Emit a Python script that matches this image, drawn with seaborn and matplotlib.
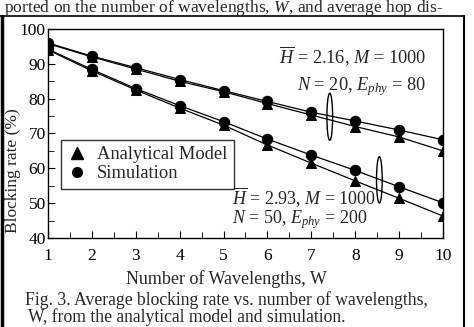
import numpy as np
import pandas as pd
import matplotlib
matplotlib.use("Agg")
import matplotlib.pyplot as plt
from matplotlib.patches import Ellipse
from matplotlib.lines import Line2D
import seaborn as sns

# ---- data ----
wavelengths = [1, 2, 3, 4, 5, 6, 7, 8, 9, 10]
sim_h216 = [96.0, 92.2, 88.9, 85.5, 82.3, 79.2, 76.1, 73.6, 71.0, 68.2]
ana_h216 = [95.8, 92.0, 88.5, 85.0, 82.0, 78.6, 75.3, 72.0, 69.0, 65.0]
sim_h293 = [94.2, 88.4, 82.9, 78.0, 73.4, 68.4, 63.8, 59.4, 54.7, 50.1]
ana_h293 = [94.0, 88.0, 82.5, 77.3, 72.4, 66.7, 61.5, 56.4, 51.4, 46.3]
methods = ["Analytical Model", "Simulation"]
x_ticks = [1, 2, 3, 4, 5, 6, 7, 8, 9, 10]
y_ticks = [40, 50, 60, 70, 80, 90, 100]

rows = []
for grp, sim, ana in [("H216", sim_h216, ana_h216), ("H293", sim_h293, ana_h293)]:
    for w, s, a in zip(wavelengths, sim, ana):
        rows.append({"W": w, "rate": a, "method": methods[0], "group": grp})
        rows.append({"W": w, "rate": s, "method": methods[1], "group": grp})
df = pd.DataFrame(rows)
df["series"] = df["group"] + df["method"]

sns.set_style("ticks")
plt.rcParams["font.family"] = ["Liberation Serif", "DejaVu Serif"]
plt.rcParams["mathtext.fontset"] = "custom"
plt.rcParams["mathtext.rm"] = "Liberation Serif"
plt.rcParams["mathtext.it"] = "Liberation Serif:italic"

fig = plt.figure(figsize=(4.74, 3.27), dpi=100)
ax = fig.add_axes([48 / 474, 1 - 238 / 327, (443 - 48) / 474, (238 - 29) / 327])

series_order = ["H216Analytical Model", "H216Simulation", "H293Analytical Model", "H293Simulation"]
sns.lineplot(data=df, x="W", y="rate", hue="series", style="series",
             hue_order=series_order, style_order=series_order,
             palette=["black"] * 4, markers=["^", "o", "^", "o"], dashes=False,
             markersize=7.5, linewidth=0.9, markeredgecolor="black",
             legend=False, ax=ax)

ax.set_xlim(1, 10)
ax.set_ylim(40, 100)
ax.set_xticks(x_ticks)
ax.set_yticks(y_ticks)
ax.set_xticks(np.arange(1.5, 10, 1.0), minor=True)
ax.set_yticks(np.arange(45, 100, 10), minor=True)
ax.tick_params(axis="both", which="both", direction="in", colors="black", labelsize=12.5)
ax.tick_params(axis="x", which="major", length=5, pad=7)
ax.tick_params(axis="x", which="minor", length=4)
ax.tick_params(axis="y", which="major", length=5, pad=1.5)
ax.tick_params(axis="y", which="minor", length=4)
ax.set_xlabel("")
ax.set_ylabel("")
for sp in ax.spines.values():
    sp.set_color("black")
    sp.set_linewidth(1.0)

# legend
handles = [Line2D([], [], color="black", marker="^", linestyle="none", markersize=8),
           Line2D([], [], color="black", marker="o", linestyle="none", markersize=7)]
leg = ax.legend(handles, methods, loc="upper left", bbox_to_anchor=(0.033, 0.469),
                frameon=True, fancybox=False, fontsize=13.3, handletextpad=0.6,
                borderpad=0.35, labelspacing=0.1, handlelength=1.0, borderaxespad=0)
leg.get_frame().set_edgecolor("black")
leg.get_frame().set_linewidth(1.0)

# annotations
ax.text(9.62, 92.0, r"$\overline{H}$ = 2.16, $M$ = 1000", ha="right", va="center", fontsize=13.2)
ax.text(9.62, 83.4, r"$N$ = 20, $E_{phy}$ = 80", ha="right", va="center", fontsize=13.2)
ax.text(5.2, 51.6, r"$\overline{H}$ = 2.93, $M$ = 1000", ha="left", va="center", fontsize=13)
ax.text(5.2, 45.2, r"$N$ = 50, $E_{phy}$ = 200", ha="left", va="center", fontsize=13)
ax.add_patch(Ellipse((7.42, 74.8), 0.13, 13.5, fill=False, edgecolor="black", lw=1.0))
ax.add_patch(Ellipse((8.55, 56.7), 0.13, 13.3, fill=False, edgecolor="black", lw=1.0))

# axis labels and page text
fig.text(226 / 474, 1 - 279 / 327, r"Number of Wavelengths, W", ha="center", va="center", fontsize=13)
fig.text(13 / 474, 1 - 171 / 327, "Blocking rate (%)", rotation=90, ha="center", va="center", fontsize=12.5)
fig.text(4 / 474, 1 - 12.5 / 327, r"ported on the number of wavelengths, $W$, and average hop dis-",
         ha="left", va="baseline", fontsize=12.6)
fig.text(25 / 474, 1 - 300 / 327, "Fig. 3. Average blocking rate vs. number of wavelengths,",
         ha="left", va="center", fontsize=12.7)
fig.text(28 / 474, 1 - 317 / 327, "W, from the analytical model and simulation.",
         ha="left", va="center", fontsize=12.7)

# scan frame
fig.add_artist(Line2D([0, 464 / 474], [1 - 15.5 / 327] * 2, transform=fig.transFigure, color="black", lw=1.2))
fig.add_artist(Line2D([1.5 / 474] * 2, [0, 1 - 15.5 / 327], transform=fig.transFigure, color="black", lw=2.5))
fig.add_artist(Line2D([464 / 474] * 2, [0, 1 - 15.5 / 327], transform=fig.transFigure, color="black", lw=1.5))

fig.savefig("out.png", dpi=100)
